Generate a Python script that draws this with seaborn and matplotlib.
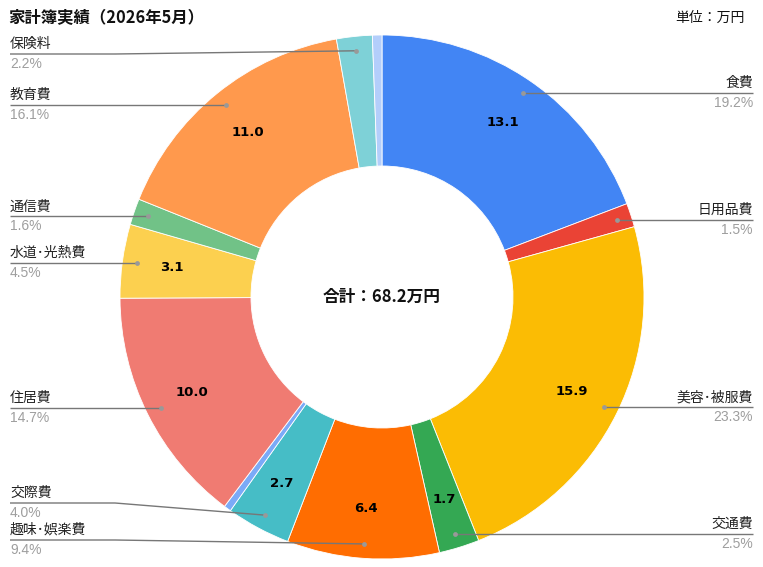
import numpy as np
import matplotlib
matplotlib.use("Agg")
import matplotlib.pyplot as plt
import seaborn as sns

# data
categories = ["食費", "日用品費", "美容･被服費", "交通費", "趣味･娯楽費", "交際費", "その他",
              "住居費", "水道･光熱費", "通信費", "教育費", "保険料", "雑費"]
values = [13.1, 1.0, 15.9, 1.7, 6.4, 2.7, 0.3, 10.0, 3.1, 1.1, 11.0, 1.5, 0.4]
colors = ["#4285F4", "#EA4335", "#FBBC04", "#34A853", "#FF6D01", "#46BDC6", "#7BAAF7",
          "#F07B72", "#FCD04F", "#71C287", "#FF994D", "#7ED1D7", "#B3CEFB"]
show_leader = [True, True, True, True, True, True, False,
               True, True, True, True, True, False]

sns.set_theme(style="white")
plt.rcParams["font.family"] = ["Noto Sans CJK JP", "DejaVu Sans"]

W, H = 763, 567
fig = plt.figure(figsize=(W / 100, H / 100), dpi=100)
ax = fig.add_axes([0, 0, 1, 1])

cx, cy, R = 382, H - 297, 262
total = sum(values)

wedges, _, autotexts = ax.pie(
    values, colors=colors, startangle=90, counterclock=False,
    center=(cx, cy), radius=R,
    wedgeprops=dict(width=R * 0.5, edgecolor="white", linewidth=0.6),
    autopct=lambda p: f"{p * total / 100:.1f}" if p * total / 100 >= 1.5 else "",
    pctdistance=0.81,
    textprops=dict(fontsize=9.5, fontweight="bold", color="black",
                   family=["DejaVu Sans"]),
)
ax.set_xlim(0, W)
ax.set_ylim(0, H)
ax.set_aspect("equal")
ax.set_axis_off()

# leader labels
r_dot = 0.945 * R
left, right = [], []
for w, name, v, show in zip(wedges, categories, values, show_leader):
    if not show:
        continue
    ang = np.deg2rad((w.theta1 + w.theta2) / 2)
    dx, dy = cx + r_dot * np.cos(ang), cy + r_dot * np.sin(ang)
    item = dict(name=name, pct=v / total * 100, dx=dx, dy=dy, ly=dy)
    (left if dx < cx else right).append(item)

gap, ymin, ymax = 37, H - 540, H - 54
for side in (left, right):
    side.sort(key=lambda d: d["dy"])  # bottom to top
    for i, d in enumerate(side):
        lo = ymin if i == 0 else side[i - 1]["ly"] + gap
        d["ly"] = max(d["ly"], lo)
    for i in range(len(side) - 1, -1, -1):
        hi = ymax if i == len(side) - 1 else side[i + 1]["ly"] - gap
        side[i]["ly"] = min(side[i]["ly"], hi)

for side, x_end, x_brk, ha in ((left, 10, 115, "left"), (right, 753, 648, "right")):
    for d in side:
        ax.plot([x_end, x_brk, d["dx"]], [d["ly"], d["ly"], d["dy"]],
                color="#777777", lw=1, solid_capstyle="butt", zorder=3)
        ax.scatter([d["dx"]], [d["dy"]], s=12, color="#999999", zorder=4, linewidths=0)
        ax.text(x_end, d["ly"] + 3, d["name"], ha=ha, va="bottom",
                fontsize=10, color="#222222")
        ax.text(x_end, d["ly"] - 3, f"{d['pct']:.1f}%", ha=ha, va="top",
                fontsize=10, color="#9E9E9E", family=["Liberation Sans"])

ax.text(cx, cy, f"合計：{total:.1f}万円", ha="center", va="center",
        fontsize=12, fontweight="bold", color="#111111")
ax.text(8, H - 18, "家計簿実績（2026年5月）", ha="left", va="center",
        fontsize=11.8, fontweight="bold", color="#111111")
ax.text(745, H - 18, "単位：万円", ha="right", va="center",
        fontsize=10, color="#111111")

fig.savefig("out.png", dpi=100)
